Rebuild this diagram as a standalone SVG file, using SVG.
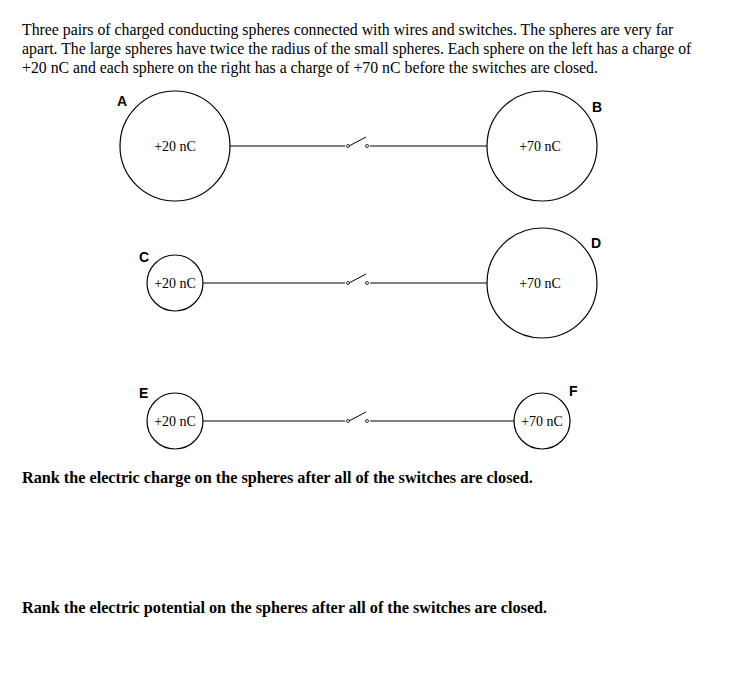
<svg xmlns="http://www.w3.org/2000/svg" width="732" height="691" viewBox="0 0 732 691">
<style>
.t{font-family:"Liberation Serif",serif;font-size:15.8px;fill:#000}
.b{font-weight:bold}
.q{font-family:"Liberation Serif",serif;font-size:14px;text-anchor:middle}
.l{font-family:"Liberation Sans",sans-serif;font-size:14px;font-weight:bold}
.s{fill:#fff;stroke:#000;stroke-width:1.2}
.w{stroke:#000;stroke-width:1;fill:none}
.c{fill:#fff;stroke:#000;stroke-width:0.8}
</style>
<rect width="732" height="691" fill="#fff"/>
<text class="t" x="22" y="35">Three pairs of charged conducting spheres connected with wires and switches. The spheres are very far</text>
<text class="t" x="22" y="54">apart. The large spheres have twice the radius of the small spheres. Each sphere on the left has a charge of</text>
<text class="t" x="22" y="73">+20 nC and each sphere on the right has a charge of +70 nC before the switches are closed.</text>
<g id="connectors">
<path class="w" d="M230 146H345M370 146H487M349 146L366 137"/>
<circle class="c" cx="348" cy="146" r="1.5"/><circle class="c" cx="367" cy="146" r="1.5"/>
<path class="w" d="M203 283H345M370 283H487M349 283L366 274"/>
<circle class="c" cx="348" cy="283" r="1.5"/><circle class="c" cx="367" cy="283" r="1.5"/>
<path class="w" d="M203 421H345M370 421H514M349 421L366 412"/>
<circle class="c" cx="348" cy="421" r="1.5"/><circle class="c" cx="367" cy="421" r="1.5"/>
</g>
<g id="A"><circle class="s" cx="175" cy="146" r="55"/><text class="q" x="175" y="151">+20 nC</text><text class="l" x="117" y="106">A</text></g>
<g id="B"><circle class="s" cx="542" cy="146" r="55"/><text class="q" x="540" y="151">+70 nC</text><text class="l" x="592" y="112">B</text></g>
<g id="C"><circle class="s" cx="175" cy="283" r="28"/><text class="q" x="175" y="288">+20 nC</text><text class="l" x="139" y="262">C</text></g>
<g id="D"><circle class="s" cx="542" cy="283" r="55"/><text class="q" x="540" y="288">+70 nC</text><text class="l" x="591" y="248">D</text></g>
<g id="E"><circle class="s" cx="175" cy="421" r="28"/><text class="q" x="175" y="426">+20 nC</text><text class="l" x="139" y="398">E</text></g>
<g id="F"><circle class="s" cx="542" cy="421" r="28"/><text class="q" x="542" y="426">+70 nC</text><text class="l" x="569" y="396">F</text></g>
<text class="t b" x="22" y="483" style="font-size:16.2px">Rank the electric charge on the spheres after all of the switches are closed.</text>
<text class="t b" x="22" y="613" style="font-size:16.2px">Rank the electric potential on the spheres after all of the switches are closed.</text>
</svg>
